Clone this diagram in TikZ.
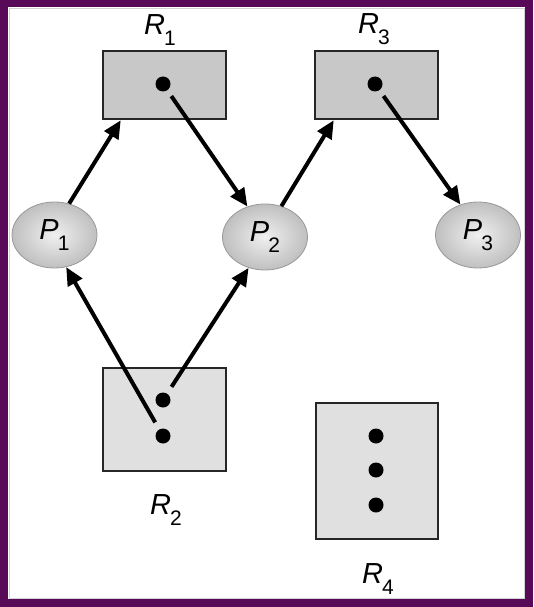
\documentclass[tikz,border=0pt]{standalone}
\usepackage{fontspec}
\setmainfont{Liberation Sans}
\usetikzlibrary{shapes.geometric,arrows.meta}
\definecolor{framepurple}{RGB}{88,10,88}
\definecolor{boxdark}{RGB}{200,200,200}
\definecolor{boxlight}{RGB}{224,224,224}
\newcommand\lab[2]{\fontsize{29}{29}\selectfont\textit{#1}\kern-1pt\raisebox{-11pt}{\fontsize{21}{21}\selectfont #2}}
\begin{document}
\begin{tikzpicture}[x=1pt,y=-1pt,
  resbox/.style={draw=black!85,line width=2.5pt,inner sep=0pt},
  proc/.style={ellipse,draw=gray!80,line width=0.8pt,shading=radial,inner color=gray!12,outer color=gray!50,minimum width=85pt,minimum height=66pt,inner sep=0pt},
  dot/.style={circle,fill=black,inner sep=0pt,minimum size=15pt},
  arr/.style={line width=4pt,-{Triangle[length=18pt,width=16pt]}},
  lbl/.style={inner sep=0pt}]
\fill[framepurple] (0,0) rectangle (533,607);
\fill[white] (8,7) rectangle (525,599);
\draw[gray!35,line width=0.8pt] (9,8) rectangle (524,598);
% resources
\node[resbox,fill=boxdark,minimum width=123pt,minimum height=68pt] (r1) at (164.5,85) {};
\node[resbox,fill=boxdark,minimum width=123pt,minimum height=68pt] (r3) at (376.5,85) {};
\node[resbox,fill=boxlight,minimum width=123pt,minimum height=103pt] (r2) at (164.5,419.5) {};
\node[resbox,fill=boxlight,minimum width=122pt,minimum height=136pt] (r4) at (377,471) {};
% dots
\node[dot] (d1) at (163,84) {};
\node[dot] (d3) at (375,84) {};
\node[dot] (d2a) at (163,400) {};
\node[dot] (d2b) at (163,436) {};
\node[dot] (d4a) at (376,436) {};
\node[dot] (d4b) at (376,470) {};
\node[dot] (d4c) at (376,505) {};
% processes
\node[proc] (p1) at (54.5,235) {\lab{P}{1}};
\node[proc] (p2) at (265,237) {\lab{P}{2}};
\node[proc] (p3) at (478,235) {\lab{P}{3}};
% labels
\node[lbl] (l1) at (160,30) {\lab{R}{1}};
\node[lbl] (l3) at (374,29) {\lab{R}{3}};
\node[lbl] (l2) at (166,510) {\lab{R}{2}};
\node[lbl] (l4) at (378,579) {\lab{R}{4}};
% edges
\draw[arr] (p1.65) -- ([xshift=19pt]r1.south west);
\draw[arr,shorten <=7pt] (d1) -- (p2.120);
\draw[arr] (p2.62) -- ([xshift=20pt]r3.south west);
\draw[arr,shorten <=7pt] (d3) -- (p3.120);
\draw[arr,shorten <=8pt] (d2b) -- (p1.-70);
\draw[arr,shorten <=8pt] (d2a) -- (p2.-118);
\end{tikzpicture}
\end{document}
